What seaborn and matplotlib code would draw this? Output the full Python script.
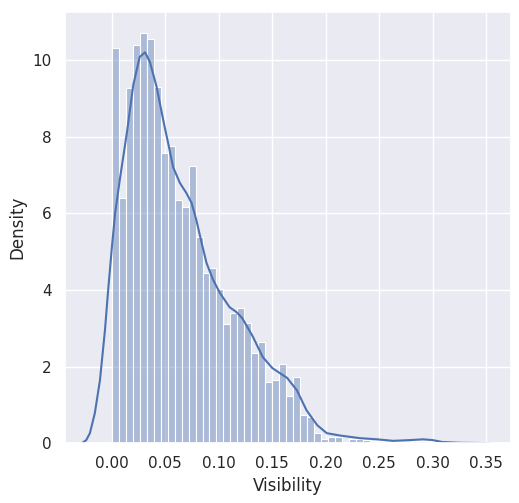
import numpy as np
import pandas as pd
import seaborn as sns
import matplotlib
matplotlib.use("Agg")
import matplotlib.pyplot as plt

# histogram: 50 bins from 0 to ~0.326, density
bin_lo = 0.0
bin_hi = 0.326
n_bins = 50
densities = [10.3, 6.4, 9.27, 10.4, 10.7, 10.55, 9.3, 7.57, 7.75, 6.34,
             6.16, 7.23, 5.38, 4.44, 4.57, 4.02, 3.12, 3.4, 3.52, 3.13,
             2.35, 2.64, 1.59, 1.64, 2.06, 1.23, 1.72, 0.73, 0.68, 0.26,
             0.11, 0.17, 0.16, 0.04, 0.1, 0.1, 0.08, 0.06, 0.06, 0.04,
             0.03, 0.03, 0.04, 0.05, 0.05, 0.05, 0.04, 0.0, 0.0, 0.0]

# kde curve points
kde_x = [-0.028, -0.024, -0.0206, -0.016, -0.0112, -0.0065, -0.0035, 0.0,
         0.003, 0.0075, 0.014, 0.02, 0.026, 0.031, 0.0355, 0.0418, 0.048,
         0.0526, 0.0573, 0.0636, 0.0698, 0.0745, 0.079, 0.084, 0.0885,
         0.0947, 0.101, 0.110, 0.1165, 0.122, 0.132, 0.141, 0.150, 0.164,
         0.173, 0.182, 0.192, 0.201, 0.213, 0.232, 0.248, 0.263, 0.279,
         0.291, 0.300, 0.309, 0.325, 0.353]
kde_y = [0.0, 0.08, 0.26, 0.78, 1.64, 2.95, 4.0, 5.12,
         6.0, 6.9, 8.1, 9.35, 10.08, 10.2, 9.95, 9.3, 8.43,
         7.83, 7.2, 6.79, 6.52, 6.27, 5.82, 5.22, 4.7,
         4.26, 3.92, 3.55, 3.42, 3.26, 2.77, 2.25, 1.96, 1.7,
         1.38, 0.86, 0.47, 0.26, 0.2, 0.13, 0.1, 0.06, 0.08,
         0.1, 0.08, 0.03, 0.01, 0.0]

edges = np.linspace(bin_lo, bin_hi, n_bins + 1)
centers = (edges[:-1] + edges[1:]) / 2
hist_df = pd.DataFrame({"Visibility": centers, "Density": densities})
kde_df = pd.DataFrame({"Visibility": kde_x, "Density": kde_y})

sns.set_theme(style="darkgrid")
c0 = sns.color_palette()[0]

fig = plt.figure(figsize=(5.19, 5.03), dpi=100)
ax = fig.add_axes([0.125, 0.119, 0.86, 0.857])

sns.histplot(data=hist_df, x="Visibility", weights="Density",
             bins=n_bins, binrange=(bin_lo, bin_hi),
             color=c0, alpha=0.4, edgecolor="white", linewidth=0.8, ax=ax)
sns.lineplot(data=kde_df, x="Visibility", y="Density", color=c0,
             linewidth=1.5, ax=ax)

ax.set_xlabel("Visibility")
ax.set_ylabel("Density")
ax.set_xticks([0.0, 0.05, 0.10, 0.15, 0.20, 0.25, 0.30, 0.35])
ax.set_xticklabels(["0.00", "0.05", "0.10", "0.15", "0.20", "0.25", "0.30", "0.35"])
ax.set_yticks([0, 2, 4, 6, 8, 10])
ax.set_xlim(-0.044, 0.3735)
ax.set_ylim(0, 11.25)

fig.savefig("out.png", dpi=100)
